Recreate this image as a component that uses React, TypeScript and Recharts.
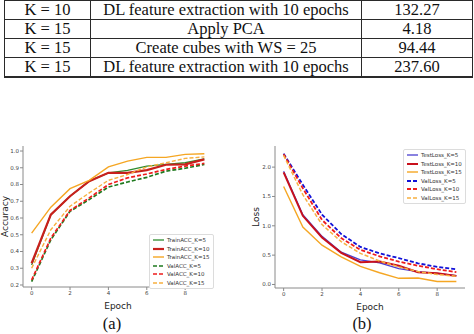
import { LineChart, Line, XAxis, YAxis, Legend } from "recharts";

const epochs = [0, 1, 2, 3, 4, 5, 6, 7, 8, 9];
const epochTicks = [0, 2, 4, 6, 8];
const accTicks = [0.2, 0.3, 0.4, 0.5, 0.6, 0.7, 0.8, 0.9, 1.0];
const lossTicks = [0, 0.5, 1.0, 1.5, 2.0];

const tableRows = [
  ["K = 10", "DL feature extraction with 10 epochs", "132.27"],
  ["K = 15", "Apply PCA", "4.18"],
  ["K = 15", "Create cubes with WS = 25", "94.44"],
  ["K = 15", "DL feature extraction with 10 epochs", "237.60"],
];

// (a) accuracy
const trainAccK5 = [0.32, 0.62, 0.73, 0.82, 0.87, 0.885, 0.91, 0.92, 0.93, 0.953];
const trainAccK10 = [0.33, 0.62, 0.73, 0.82, 0.87, 0.87, 0.886, 0.918, 0.92, 0.95];
const trainAccK15 = [0.51, 0.665, 0.775, 0.825, 0.905, 0.94, 0.962, 0.962, 0.98, 0.984];
const valAccK5 = [0.22, 0.47, 0.64, 0.71, 0.785, 0.815, 0.843, 0.88, 0.897, 0.92];
const valAccK10 = [0.23, 0.48, 0.645, 0.72, 0.8, 0.84, 0.863, 0.89, 0.91, 0.926];
const valAccK15 = [0.3, 0.53, 0.67, 0.75, 0.825, 0.86, 0.905, 0.93, 0.956, 0.965];

// (b) loss
const testLossK5 = [1.93, 1.19, 0.82, 0.55, 0.42, 0.37, 0.27, 0.22, 0.19, 0.15];
const testLossK10 = [1.91, 1.17, 0.8, 0.54, 0.38, 0.39, 0.32, 0.21, 0.19, 0.145];
const testLossK15 = [1.67, 0.98, 0.67, 0.47, 0.31, 0.2, 0.105, 0.11, 0.05, 0.05];
const valLossK5 = [2.23, 1.7, 1.19, 0.86, 0.64, 0.53, 0.45, 0.36, 0.3, 0.26];
const valLossK10 = [2.22, 1.64, 1.1, 0.79, 0.59, 0.48, 0.39, 0.32, 0.26, 0.21];
const valLossK15 = [2.2, 1.53, 1.02, 0.73, 0.53, 0.4, 0.3, 0.22, 0.17, 0.14];

interface Series {
  key: string;
  name: string;
  values: number[];
  color: string;
  width: number;
  dash?: string;
}

const accSeries: Series[] = [
  { key: "trainK5", name: "TrainACC_K=5", values: trainAccK5, color: "#2e8b2e", width: 1.3 },
  { key: "trainK10", name: "TrainACC_K=10", values: trainAccK10, color: "#c8201c", width: 2.2 },
  { key: "trainK15", name: "TrainACC_K=15", values: trainAccK15, color: "#f5a623", width: 1.4 },
  { key: "valK5", name: "ValACC_K=5", values: valAccK5, color: "#1f7a1f", width: 1.7, dash: "4 2" },
  { key: "valK10", name: "ValACC_K=10", values: valAccK10, color: "#ee1c1c", width: 1.7, dash: "4 2" },
  { key: "valK15", name: "ValACC_K=15", values: valAccK15, color: "#f7b040", width: 1.4, dash: "4 2" },
];

const lossSeries: Series[] = [
  { key: "testK5", name: "TestLoss_K=5", values: testLossK5, color: "#4a3fd0", width: 1.3 },
  { key: "testK10", name: "TestLoss_K=10", values: testLossK10, color: "#c8101c", width: 2.0 },
  { key: "testK15", name: "TestLoss_K=15", values: testLossK15, color: "#f5a623", width: 1.4 },
  { key: "valK5", name: "ValLoss_K=5", values: valLossK5, color: "#1010d8", width: 1.8, dash: "4 2" },
  { key: "valK10", name: "ValLoss_K=10", values: valLossK10, color: "#ee1c1c", width: 1.8, dash: "4 2" },
  { key: "valK15", name: "ValLoss_K=15", values: valLossK15, color: "#f7b040", width: 1.5, dash: "4 2" },
];

const toRows = (list: Series[]) =>
  epochs.map((e, i) => {
    const row: any = { epoch: e };
    list.forEach((s) => (row[s.key] = s.values[i]));
    return row;
  });

const accData = toRows(accSeries);
const lossData = toRows(lossSeries);

const tickStyle = { fontSize: 5.5, fill: "#444", fontFamily: "DejaVu Sans" };
const frame = "#8a8a8a";

const LegendBox = ({ items }: { items: Series[] }) => (
  <div
    style={{
      border: "1px solid #dcdcdc",
      borderRadius: 2,
      background: "#fff",
      padding: "1px 3px",
      fontFamily: "DejaVu Sans",
      fontSize: 5.5,
      color: "#333",
    }}
  >
    {items.map((s) => (
      <div key={s.key} style={{ display: "flex", alignItems: "center", height: 8.5 }}>
        <svg width={11} height={4}>
          <line x1={0} x2={11} y1={2} y2={2} stroke={s.color} strokeWidth={s.width} strokeDasharray={s.dash} />
        </svg>
        <span style={{ marginLeft: 3, whiteSpace: "nowrap" }}>{s.name}</span>
      </div>
    ))}
  </div>
);

const yLabel = (text: string, dx: number) => (p: any) => {
  const vb = p.viewBox;
  const cx = vb.x + dx;
  const cy = vb.y + vb.height / 2;
  return (
    <text
      x={cx}
      y={cy}
      transform={`rotate(-90 ${cx} ${cy})`}
      textAnchor="middle"
      dominantBaseline="middle"
      fontSize={9}
      fontFamily="DejaVu Sans"
      fill="#222"
    >
      {text}
    </text>
  );
};

const Panel = ({
  data,
  series,
  domain,
  ticks,
  yName,
  margin,
  height,
  legendPos,
  labelDx,
}: any) => (
  <LineChart width={237} height={height} data={data} margin={margin}>
    <XAxis
      dataKey="epoch"
      type="number"
      domain={[-0.45, 9.45]}
      ticks={epochTicks}
      height={30}
      tick={tickStyle}
      tickSize={3}
      tickMargin={1}
      tickLine={{ stroke: frame }}
      axisLine={{ stroke: frame }}
      label={{ value: "Epoch", position: "insideBottom", offset: 8, fontSize: 9, fill: "#222", fontFamily: "DejaVu Sans" }}
    />
    <XAxis xAxisId="top" orientation="top" height={0} tick={false} tickLine={false} axisLine={{ stroke: frame }} />
    <YAxis
      type="number"
      domain={domain}
      ticks={ticks}
      width={18}
      tick={tickStyle}
      tickSize={3}
      tickMargin={1}
      tickLine={{ stroke: frame }}
      axisLine={{ stroke: frame }}
      tickFormatter={(v: number) => v.toFixed(1)}
      allowDataOverflow
      label={{ content: yLabel(yName, labelDx) }}
    />
    <YAxis yAxisId="right" orientation="right" width={0} tick={false} tickLine={false} axisLine={{ stroke: frame }} />
    <Legend
      layout="vertical"
      align="center"
      verticalAlign="middle"
      wrapperStyle={{ left: legendPos[0], top: legendPos[1], width: "auto" }}
      content={() => <LegendBox items={series} />}
    />
    {series.map((s: Series) => (
      <Line
        key={s.key}
        dataKey={s.key}
        name={s.name}
        type="linear"
        stroke={s.color}
        strokeWidth={s.width}
        strokeDasharray={s.dash}
        dot={false}
        isAnimationActive={false}
      />
    ))}
  </LineChart>
);

const cell: any = {
  border: "1px solid #2a2a2a",
  padding: 0,
  height: 18,
  lineHeight: "18px",
  textAlign: "center",
  overflow: "hidden",
  whiteSpace: "nowrap",
};

const caption: any = {
  position: "absolute",
  top: 314,
  width: 40,
  height: 19,
  lineHeight: "19px",
  textAlign: "center",
  fontFamily: "Liberation Serif",
  fontSize: 16.5,
  color: "#111",
};

const App = () => {
  return (
    <div style={{ position: "absolute", left: 0, top: 0, width: 474, height: 334, background: "#fff", overflow: "hidden" }}>
      <table
        style={{
          position: "absolute",
          left: 4,
          top: 0,
          width: 468,
          borderCollapse: "collapse",
          tableLayout: "fixed",
          fontFamily: "Liberation Serif",
          fontSize: 16.5,
          color: "#111",
        }}
      >
        <colgroup>
          <col style={{ width: 86 }} />
          <col style={{ width: 271 }} />
          <col style={{ width: 111 }} />
        </colgroup>
        <tbody>
          {tableRows.map((r, i) => (
            <tr key={i}>
              {r.map((c, j) => (
                <td key={j} style={i === tableRows.length - 1 ? { ...cell, borderBottom: "2px solid #2a2a2a" } : cell}>
                  {c}
                </td>
              ))}
            </tr>
          ))}
        </tbody>
      </table>

      <div style={{ position: "absolute", left: 0, top: 140 }}>
        <Panel
          data={accData}
          series={accSeries}
          domain={[0.188, 1.03]}
          ticks={accTicks}
          yName="Accuracy"
          margin={{ top: 6, right: 24, bottom: 3, left: 5 }}
          height={180}
          legendPos={[149, 94]}
          labelDx={0}
        />
      </div>
      <div style={{ position: "absolute", left: 237, top: 140 }}>
        <Panel
          data={lossData}
          series={lossSeries}
          domain={[-0.06, 2.36]}
          ticks={lossTicks}
          yName="Loss"
          margin={{ top: 6, right: 9, bottom: 3, left: 20 }}
          height={181}
          legendPos={[166, 9]}
          labelDx={-1}
        />
      </div>

      <div style={{ ...caption, left: 92 }}>(a)</div>
      <div style={{ ...caption, left: 342 }}>(b)</div>
    </div>
  );
};

export default App;
